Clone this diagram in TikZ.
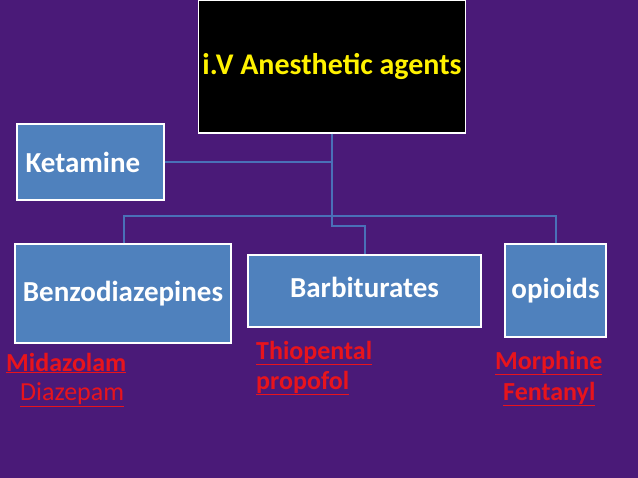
\documentclass[tikz,border=0pt]{standalone}
\usepackage{fontspec}
\setmainfont{Carlito}
\begin{document}
\begin{tikzpicture}[x=1pt,y=-1pt,
  bx/.style={draw=white,line width=1.2pt,fill=boxblue,text=white,font=\bfseries\fontsize{29}{34}\selectfont,inner sep=0pt},
  ln/.style={draw=lineblue,line width=1.2pt},
  rd/.style={text=redt,font=\bfseries\fontsize{26}{30}\selectfont,anchor=west,inner sep=0pt}]
\definecolor{boxblue}{HTML}{4F81BD}
\definecolor{lineblue}{HTML}{4A70B8}
\definecolor{redt}{HTML}{E8141C}
\definecolor{bg}{HTML}{4A1A78}
\fill[bg] (0,0) rectangle (638,478);
\useasboundingbox (0,0) rectangle (638,478);
\node[draw=white,line width=1.2pt,fill=black,minimum width=267pt,minimum height=133pt,text=yellow,font=\bfseries\fontsize{30}{36}\selectfont] (top) at (332,66.5) {i.V Anesthetic agents};
\node[bx,minimum width=147pt,minimum height=76pt,text width=130pt,align=left] (ket) at (90.5,162) {Ketamine};
\node[bx,minimum width=216pt,minimum height=99pt] (benz) at (123,293.5) {Benzodiazepines};
\node[bx,minimum width=233pt,minimum height=72pt] (barb) at (364.5,291) {\raisebox{8pt}{Barbiturates}};
\node[bx,minimum width=101pt,minimum height=93pt] (opi) at (555.5,290.5) {\raisebox{2pt}{opioids}};
\coordinate (k) at (332,162);
\coordinate (j) at (332,226);
\coordinate (b1) at (124,216);
\coordinate (b2) at (556,216);
\draw[ln] (top.south) -- (j) -- (365,226) -- (barb.north -| 365,0);
\draw[ln] (ket.east) -- (k);
\draw[ln] (benz.north -| b1) -- (b1) -- (b2) -- (opi.north -| b2);
\node[rd] (m1) at (6,363) {\underline{Midazolam}};
\node[rd,font=\fontsize{26}{30}\selectfont] (m2) at (20,395) {\underline{Diazepam}};
\node[rd] (t1) at (256,353) {\underline{Thiopental}};
\node[rd] (t2) at (256,383) {\underline{propofol}};
\node[rd] (o1) at (495,363) {\underline{Morphine}};
\node[rd] (o2) at (503,394) {\underline{Fentanyl}};
\end{tikzpicture}
\end{document}
